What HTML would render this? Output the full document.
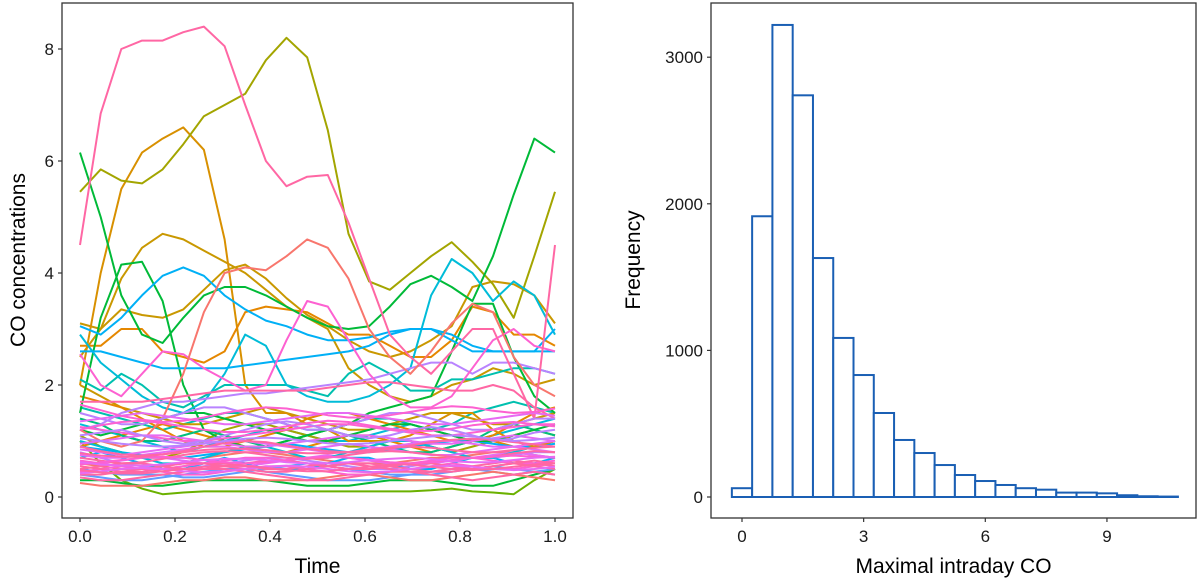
<!DOCTYPE html>
<html><head><meta charset="utf-8"><style>
body{margin:0;background:#fff;}
svg{display:block;font-family:"Liberation Sans",Arial,sans-serif;}
</style></head><body>
<svg id="chart" width="1200" height="582" viewBox="0 0 1200 582" xmlns="http://www.w3.org/2000/svg">
<g id="left"></g>
<g id="right"></g>
</svg>
<script>
// ---- Left panel data ----
const timeTicks = [0, 0.2, 0.4, 0.6, 0.8, 1.0];
const timeTickLabels = ["0.0", "0.2", "0.4", "0.6", "0.8", "1.0"];
const coTicks = [0, 2, 4, 6, 8];
const nPoints = 24;
const lowSeries = [
 [1.0,0.6,0.3,0.15,0.05,0.08,0.1,0.1,0.1,0.1,0.1,0.1,0.1,0.1,0.1,0.1,0.1,0.12,0.15,0.1,0.08,0.05,0.3,0.5],
 [0.6,0.55,0.5,0.5,0.55,0.6,0.7,0.75,0.8,0.8,0.75,0.7,0.65,0.6,0.6,0.6,0.65,0.7,0.7,0.75,0.8,0.8,0.75,0.7],
 [1.3,1.2,1.1,1.0,0.9,0.8,0.9,1.0,1.1,1.2,1.2,1.1,1.0,1.0,1.1,1.2,1.3,1.2,1.1,1.0,1.1,1.2,1.3,1.4],
 [0.4,0.35,0.3,0.3,0.35,0.4,0.45,0.5,0.5,0.45,0.4,0.35,0.3,0.3,0.3,0.35,0.4,0.4,0.45,0.5,0.55,0.5,0.45,0.4],
 [0.9,1.0,1.1,1.2,1.3,1.2,1.1,1.0,0.9,0.8,0.8,0.9,1.0,1.1,1.1,1.0,0.9,0.8,0.9,1.0,1.0,0.9,0.9,1.0],
 [1.6,1.5,1.4,1.3,1.2,1.3,1.4,1.5,1.5,1.4,1.3,1.2,1.2,1.3,1.4,1.4,1.3,1.2,1.3,1.5,1.6,1.7,1.6,1.5],
 [0.7,0.8,0.7,0.6,0.5,0.5,0.6,0.7,0.6,0.5,0.5,0.5,0.6,0.7,0.7,0.6,0.5,0.5,0.6,0.7,0.7,0.6,0.6,0.7],
 [1.1,0.9,0.8,0.7,0.7,0.8,1.0,1.2,1.3,1.3,1.2,1.1,1.0,0.9,0.9,1.0,1.0,0.9,0.8,0.9,1.0,1.1,1.2,1.1],
 [0.3,0.3,0.25,0.2,0.2,0.25,0.3,0.3,0.3,0.3,0.25,0.2,0.2,0.2,0.25,0.3,0.3,0.3,0.25,0.2,0.2,0.3,0.4,0.5],
 [2.0,1.8,1.6,1.5,1.4,1.3,1.3,1.4,1.5,1.6,1.5,1.4,1.3,1.2,1.2,1.3,1.4,1.5,1.5,1.4,1.3,1.3,1.4,1.5],
 [0.8,0.7,0.6,0.55,0.5,0.5,0.55,0.6,0.65,0.7,0.7,0.65,0.6,0.55,0.5,0.5,0.55,0.6,0.65,0.7,0.7,0.75,0.8,0.8],
 [1.4,1.3,1.1,1.0,1.0,1.1,1.2,1.1,1.0,0.9,1.0,1.1,1.2,1.1,1.0,0.9,0.8,0.8,0.9,1.0,1.2,1.3,1.2,1.1],
 [0.5,0.45,0.4,0.4,0.4,0.35,0.35,0.4,0.45,0.5,0.55,0.6,0.55,0.5,0.45,0.4,0.4,0.45,0.5,0.5,0.45,0.4,0.45,0.5],
 [1.8,1.7,1.6,1.4,1.2,1.0,0.9,0.9,1.0,1.1,1.2,1.4,1.5,1.5,1.4,1.3,1.2,1.1,1.0,1.0,1.1,1.3,1.5,1.6],
 [0.9,0.85,0.8,0.75,0.7,0.7,0.75,0.8,0.85,0.9,0.95,0.9,0.85,0.8,0.8,0.85,0.9,0.95,1.0,1.0,0.95,0.9,0.9,0.95],
 [0.25,0.2,0.2,0.2,0.25,0.3,0.3,0.35,0.35,0.3,0.3,0.3,0.35,0.4,0.4,0.35,0.3,0.3,0.35,0.4,0.45,0.4,0.35,0.3],
 [1.2,1.1,1.2,1.3,1.4,1.5,1.5,1.4,1.3,1.2,1.1,1.0,1.0,1.1,1.2,1.3,1.3,1.2,1.1,1.0,1.0,1.1,1.2,1.3],
 [0.6,0.6,0.65,0.7,0.7,0.65,0.6,0.55,0.55,0.6,0.65,0.7,0.75,0.7,0.65,0.6,0.6,0.6,0.65,0.7,0.75,0.8,0.75,0.7],
 [1.0,0.9,0.8,0.7,0.6,0.6,0.7,0.8,0.9,0.9,0.8,0.7,0.7,0.8,0.9,1.0,1.0,0.9,0.8,0.7,0.7,0.8,0.9,1.0],
 [0.45,0.5,0.55,0.5,0.45,0.4,0.4,0.45,0.5,0.55,0.55,0.5,0.45,0.4,0.4,0.45,0.5,0.55,0.6,0.55,0.5,0.5,0.55,0.6],
 [1.5,1.4,1.3,1.3,1.4,1.5,1.6,1.6,1.5,1.4,1.3,1.2,1.2,1.3,1.4,1.5,1.5,1.4,1.3,1.2,1.2,1.3,1.4,1.4],
 [0.35,0.3,0.3,0.35,0.4,0.45,0.5,0.5,0.45,0.4,0.35,0.3,0.3,0.35,0.4,0.45,0.45,0.4,0.35,0.3,0.35,0.4,0.45,0.4],
 [0.75,0.7,0.7,0.75,0.8,0.85,0.9,0.9,0.85,0.8,0.8,0.85,0.9,0.95,0.9,0.85,0.8,0.75,0.75,0.8,0.85,0.9,0.85,0.8],
 [1.25,1.2,1.15,1.1,1.05,1.0,1.0,1.05,1.1,1.15,1.2,1.25,1.3,1.3,1.25,1.2,1.15,1.1,1.1,1.15,1.2,1.25,1.3,1.3],
 [0.55,0.5,0.45,0.45,0.5,0.55,0.6,0.6,0.55,0.5,0.5,0.55,0.6,0.6,0.55,0.5,0.45,0.45,0.5,0.55,0.6,0.65,0.6,0.55],
 [0.95,1.0,1.05,1.1,1.1,1.05,1.0,0.95,0.9,0.9,0.95,1.0,1.05,1.1,1.1,1.05,1.0,0.95,0.95,1.0,1.05,1.1,1.05,1.0],
 [0.65,0.6,0.55,0.5,0.5,0.55,0.6,0.65,0.7,0.7,0.65,0.6,0.55,0.5,0.5,0.55,0.6,0.65,0.7,0.7,0.65,0.6,0.6,0.65],
 [0.4,0.4,0.45,0.5,0.55,0.6,0.6,0.55,0.5,0.45,0.45,0.5,0.55,0.6,0.6,0.55,0.5,0.45,0.45,0.5,0.55,0.6,0.55,0.5],
 [0.85,0.8,0.75,0.8,0.85,0.9,0.95,1.0,1.0,0.95,0.9,0.85,0.8,0.8,0.85,0.9,0.95,1.0,1.0,0.95,0.9,0.9,0.95,1.0],
 [0.5,0.55,0.6,0.6,0.55,0.5,0.5,0.55,0.6,0.65,0.65,0.6,0.55,0.5,0.5,0.55,0.6,0.6,0.55,0.5,0.55,0.6,0.65,0.6],
 [1.1,1.15,1.2,1.1,1.0,0.95,1.0,1.1,1.2,1.3,1.35,1.3,1.2,1.1,1.05,1.1,1.2,1.25,1.2,1.1,1.0,1.05,1.15,1.2],
 [0.7,0.65,0.6,0.62,0.68,0.75,0.8,0.82,0.8,0.75,0.7,0.68,0.7,0.75,0.8,0.82,0.8,0.76,0.72,0.7,0.72,0.78,0.82,0.8],
 [1.35,1.4,1.45,1.5,1.45,1.4,1.35,1.3,1.3,1.35,1.4,1.45,1.5,1.5,1.45,1.4,1.35,1.3,1.3,1.35,1.4,1.45,1.5,1.45],
 [0.58,0.62,0.66,0.7,0.72,0.7,0.66,0.62,0.6,0.62,0.66,0.7,0.72,0.7,0.66,0.62,0.6,0.62,0.66,0.7,0.72,0.74,0.72,0.7],
 [0.9,0.82,0.76,0.74,0.76,0.82,0.9,0.96,1.0,0.98,0.92,0.86,0.82,0.8,0.82,0.86,0.92,0.98,1.02,1.04,1.02,0.98,0.94,0.9],
 [1.05,1.0,0.95,0.92,0.9,0.92,0.96,1.0,1.04,1.06,1.04,1.0,0.96,0.94,0.96,1.0,1.04,1.08,1.1,1.08,1.04,1.0,1.02,1.06],
 [0.42,0.46,0.5,0.52,0.5,0.46,0.44,0.46,0.5,0.54,0.56,0.54,0.5,0.46,0.44,0.46,0.5,0.54,0.56,0.54,0.5,0.48,0.5,0.54],
 [1.65,1.55,1.45,1.38,1.34,1.36,1.42,1.5,1.56,1.6,1.58,1.52,1.46,1.42,1.42,1.46,1.52,1.58,1.62,1.6,1.54,1.5,1.52,1.58],
 [0.78,0.74,0.72,0.72,0.76,0.8,0.84,0.86,0.86,0.84,0.8,0.78,0.78,0.8,0.84,0.88,0.9,0.88,0.84,0.8,0.8,0.84,0.88,0.9],
 [0.62,0.58,0.56,0.56,0.58,0.62,0.66,0.68,0.68,0.66,0.62,0.6,0.6,0.62,0.66,0.68,0.7,0.68,0.64,0.62,0.62,0.66,0.7,0.72],
 [1.2,1.28,1.34,1.36,1.32,1.26,1.2,1.16,1.16,1.2,1.26,1.32,1.36,1.34,1.28,1.22,1.18,1.18,1.22,1.28,1.32,1.34,1.3,1.26],
 [0.48,0.44,0.42,0.42,0.46,0.5,0.54,0.56,0.56,0.52,0.48,0.46,0.46,0.5,0.54,0.58,0.58,0.54,0.5,0.48,0.5,0.54,0.58,0.6]
];
const lowColors = ["#6BB100","#F8766D","#00BCD8","#619CFF","#E58700","#00C0AF","#00B0F6","#A3A500","#00BA38","#C99800","#B983FF","#00BF7D","#619CFF","#E58700","#00B0F6","#F8766D","#00BA38","#E76BF3","#00BCD8","#FD61D1","#B983FF","#FF67A4","#E76BF3","#FD61D1","#FF67A4","#E76BF3","#FD61D1","#FF67A4","#E76BF3","#FF67A4","#B983FF","#FF67A4","#E76BF3","#FD61D1","#FF67A4","#B983FF","#E76BF3","#FD61D1","#FF67A4","#E76BF3","#FD61D1","#FF67A4"];
const bigSeries = [
 [2.5,3.0,3.9,4.45,4.7,4.6,4.4,4.2,4.0,3.7,3.4,3.2,3.0,2.3,2.0,1.8,1.7,1.8,2.0,2.1,2.3,2.2,2.0,2.1],
 [3.1,3.0,3.35,3.25,3.2,3.35,3.7,4.05,4.15,3.9,3.55,3.25,3.05,2.8,2.6,2.5,2.6,2.8,3.05,3.75,3.85,3.8,3.6,3.1],
 [2.0,4.0,5.5,6.15,6.4,6.6,6.2,4.6,2.0,1.5,1.5,1.3,1.2,1.0,1.0,1.0,1.1,1.3,1.5,1.5,1.2,1.0,0.9,1.0],
 [2.7,2.7,3.0,3.0,2.6,2.5,2.4,2.6,3.3,3.4,3.35,3.3,3.1,2.9,2.9,2.7,2.5,2.5,2.8,3.4,3.3,2.9,2.9,2.7],
 [5.45,5.85,5.65,5.6,5.85,6.3,6.8,7.0,7.2,7.8,8.2,7.85,6.55,4.7,3.85,3.7,4.0,4.3,4.55,4.2,3.8,3.2,4.3,5.45],
 [1.5,3.2,4.15,4.2,3.5,2.0,1.2,1.0,0.9,0.9,1.0,1.1,1.2,1.3,1.5,1.6,1.7,1.8,2.6,3.45,3.45,2.5,1.8,1.5],
 [6.15,5.0,3.6,2.9,2.75,3.2,3.6,3.75,3.75,3.6,3.4,3.2,3.05,3.0,3.05,3.4,3.8,3.95,3.75,3.5,4.3,5.4,6.4,6.15],
 [2.1,1.9,2.2,2.0,1.7,1.6,1.8,2.0,2.0,2.0,2.0,1.9,1.8,2.2,2.4,2.2,1.9,1.9,2.1,2.1,2.2,2.3,2.3,2.2],
 [2.9,2.4,2.1,1.8,1.6,1.5,1.7,2.2,2.9,2.7,2.0,1.8,1.7,1.7,1.8,2.0,2.3,3.6,4.25,4.0,3.5,3.85,3.6,2.9],
 [3.05,2.9,3.2,3.6,3.95,4.1,3.95,3.6,3.35,3.15,3.05,2.9,2.8,2.8,2.85,2.95,3.0,3.0,2.8,2.6,2.6,2.6,2.6,3.0],
 [2.6,2.6,2.5,2.4,2.3,2.3,2.3,2.3,2.35,2.4,2.45,2.5,2.55,2.6,2.7,2.9,3.0,3.0,2.9,2.7,2.6,2.6,2.6,2.6],
 [1.2,1.3,1.5,1.6,1.7,1.7,1.75,1.8,1.85,1.85,1.9,1.95,2.0,2.05,2.1,2.2,2.3,2.4,2.4,2.2,2.4,2.4,2.3,2.2],
 [2.55,2.0,1.8,2.2,2.6,2.55,2.3,2.1,1.9,2.0,2.8,3.5,3.4,2.8,2.2,1.8,1.6,1.6,1.8,2.3,2.8,3.0,2.7,2.6],
 [1.2,1.0,0.9,1.0,1.4,2.2,3.3,4.0,4.1,4.05,4.3,4.6,4.45,3.9,3.0,2.5,2.2,2.6,3.1,3.45,3.3,2.5,2.0,1.8],
 [1.7,1.7,1.7,1.7,1.75,1.8,1.85,1.9,1.9,1.9,1.9,1.9,1.95,2.0,2.05,2.05,2.0,1.95,1.9,1.9,2.0,1.9,1.6,1.4],
 [4.5,6.85,8.0,8.15,8.15,8.3,8.4,8.05,7.0,6.0,5.55,5.72,5.75,4.9,3.9,2.9,2.5,2.2,2.6,3.0,3.0,2.2,1.4,4.5]
];
const bigColors = ["#C99800","#C99800","#D89000","#E58700","#A3A500","#00BA38","#00BA38","#00C0AF","#00BCD8","#00B0F6","#00B0F6","#B983FF","#FD61D1","#F8766D","#FF67A4","#FF67A4"];

// ---- Right panel data ----
const binCenters = [0,0.5,1,1.5,2,2.5,3,3.5,4,4.5,5,5.5,6,6.5,7,7.5,8,8.5,9,9.5,10,10.5];
const binCounts = [60,1915,3220,2740,1630,1085,832,573,389,300,218,150,109,82,60,50,30,30,25,12,5,3];
const binWidth = 0.5;
const freqTicks = [0,1000,2000,3000];
const coTicksX = [0,3,6,9];

const NS = "http://www.w3.org/2000/svg";
function mk(parent, tag, attrs){const e=document.createElementNS(NS,tag);for(const k in attrs)e.setAttribute(k,attrs[k]);parent.appendChild(e);return e;}

// Left axes
const L = {x0:62,x1:573,y0:3,y1:518};
const lx = t => 80 + t*(555-80);
const ly = v => 497 - v*56;
const left = document.getElementById('left');
function drawSeries(arr, col, nameBase){
  arr.forEach((s,i)=>{
    const pts = s.map((v,j)=>lx(j/(nPoints-1)).toFixed(1)+","+ly(v).toFixed(1)).join(" ");
    const p = mk(left,'polyline',{points:pts,fill:'none',stroke:col[i%col.length],'stroke-width':2,'stroke-linejoin':'round'});
    
    
  });
}
drawSeries(lowSeries.slice(0,20), lowColors.slice(0,20), 'co-line-low');
drawSeries(bigSeries, bigColors, 'co-line');
drawSeries(lowSeries.slice(20), lowColors.slice(20), 'co-line-low-top');
const lf = mk(left,'rect',{x:L.x0,y:L.y0,width:L.x1-L.x0,height:L.y1-L.y0,fill:'none',stroke:'#333','stroke-width':1.3});


coTicks.forEach(v=>{
  mk(left,'line',{x1:L.x0-4,x2:L.x0,y1:ly(v),y2:ly(v),stroke:'#333','stroke-width':1.2});
  const t = mk(left,'text',{x:L.x0-8,y:ly(v)+6,'text-anchor':'end','font-size':17,fill:'#1a1a1a'});
  t.textContent = v;
  
  
});
timeTicks.forEach((v,i)=>{
  mk(left,'line',{x1:lx(v),x2:lx(v),y1:L.y1,y2:L.y1+4,stroke:'#333','stroke-width':1.2});
  const t = mk(left,'text',{x:lx(v),y:L.y1+24,'text-anchor':'middle','font-size':17,fill:'#1a1a1a'});
  t.textContent = timeTickLabels[i];
  
  
});
let tt = mk(left,'text',{x:(L.x0+L.x1)/2,y:573,'text-anchor':'middle','font-size':21,fill:'#000'});
tt.textContent='Time';


tt = mk(left,'text',{x:0,y:0,'text-anchor':'middle','font-size':21,fill:'#000',transform:'translate(25,260) rotate(-90)'});
tt.textContent='CO concentrations';



// Right panel
const R = {x0:711,x1:1196,y0:3,y1:518};
const rx = v => 742 + v*40.55;
const ry = c => 497 - c*0.1466;
const right = document.getElementById('right');
binCenters.forEach((c,i)=>{
  const r = mk(right,'rect',{x:rx(c-binWidth/2),y:ry(binCounts[i]),width:rx(binWidth)-rx(0),height:ry(0)-ry(binCounts[i]),fill:'#fff',stroke:'#1a5fb4','stroke-width':2});
  
  
});
const rf = mk(right,'rect',{x:R.x0,y:R.y0,width:R.x1-R.x0,height:R.y1-R.y0,fill:'none',stroke:'#333','stroke-width':1.3});


freqTicks.forEach(v=>{
  mk(right,'line',{x1:R.x0-4,x2:R.x0,y1:ry(v),y2:ry(v),stroke:'#333','stroke-width':1.2});
  const t = mk(right,'text',{x:R.x0-8,y:ry(v)+6,'text-anchor':'end','font-size':17,fill:'#1a1a1a'});
  t.textContent = v;
  
  
});
coTicksX.forEach(v=>{
  mk(right,'line',{x1:rx(v),x2:rx(v),y1:R.y1,y2:R.y1+4,stroke:'#333','stroke-width':1.2});
  const t = mk(right,'text',{x:rx(v),y:R.y1+24,'text-anchor':'middle','font-size':17,fill:'#1a1a1a'});
  t.textContent = v;
  
  
});
tt = mk(right,'text',{x:(R.x0+R.x1)/2,y:573,'text-anchor':'middle','font-size':21,fill:'#000'});
tt.textContent='Maximal intraday CO';


tt = mk(right,'text',{x:0,y:0,'text-anchor':'middle','font-size':21,fill:'#000',transform:'translate(640,260) rotate(-90)'});
tt.textContent='Frequency';


</script>
</body></html>
